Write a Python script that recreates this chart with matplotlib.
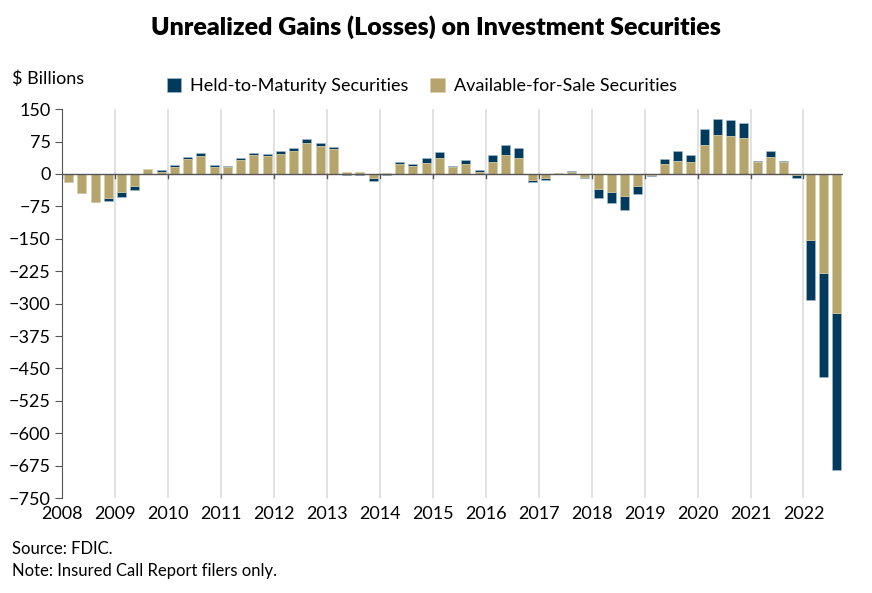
import numpy as np
import matplotlib.pyplot as plt

plt.rcParams['font.family'] = ['Lato', 'DejaVu Sans']

# quarterly, 2008Q1 - 2022Q3, $ billions
afs = [-18, -43, -65, -56,
       -41, -29, 12, 5,
       17, 35, 42, 17,
       17, 33, 44, 42,
       46, 54, 72, 64,
       57, 5, 4, -9,
       3, 24, 19, 26,
       36, 16, 23, 5,
       28, 43, 38, -15,
       -10, 2, 4, -6,
       -34, -41, -51, -28,
       -2, 22, 31, 27,
       68, 90, 87, 83,
       27, 40, 27, -2,
       -152, -229, -321]
htm = [-1, -1, -1, -6,
       -13, -9, 0, 3,
       4, 4, 6, 4,
       2, 4, 4, 3,
       6, 6, 9, 8,
       6, -3, -3, -7,
       -2, 4, 3, 10,
       14, 3, 10, 4,
       16, 25, 21, -4,
       -4, 0, 2, -3,
       -21, -26, -33, -19,
       -3, 13, 22, 17,
       36, 38, 37, 35,
       2, 12, 2, -7,
       -139, -240, -365]
years = list(range(2008, 2023))

afs = np.array(afs, dtype=float)
htm = np.array(htm, dtype=float)
x = 2008 + (np.arange(len(afs)) + 0.5) / 4
htm_base = np.where(np.sign(htm) == np.sign(afs), afs, 0)

navy = '#003a5d'
tan = '#b5a46b'

fig = plt.figure(figsize=(8.72, 5.93), dpi=100)
ax = fig.add_axes([0.071, 0.160, 0.896, 0.656])

for yr in years[1:]:
    ax.axvline(yr, color='#dddddd', lw=1.2, zorder=0)

ax.bar(x, htm, 0.2 * 0.85, bottom=htm_base, color=navy, edgecolor='#a9bfcf',
       linewidth=0.4, label='Held-to-Maturity Securities', zorder=2)
ax.bar(x, afs, 0.2 * 0.85, color=tan, edgecolor='#d9cfa6', linewidth=0.4,
       label='Available-for-Sale Securities', zorder=2)
ax.axhline(0, color='#555555', lw=1, zorder=3)
for yr in years:
    ax.plot([yr, yr], [0, -10], color='#555555', lw=1, zorder=3)

ax.set_xlim(2008, 2022.75)
ax.set_ylim(-750, 150)
ax.set_yticks(range(-750, 151, 75))
ax.set_xticks(years)
ax.tick_params(axis='both', labelsize=13, length=0)
ax.tick_params(axis='x', pad=6)
ax.tick_params(axis='y', length=5, color='#555555', pad=3)
for s in ['top', 'right', 'bottom']:
    ax.spines[s].set_visible(False)
ax.spines['left'].set_color('#555555')

fig.text(0.5, 0.955, 'Unrealized Gains (Losses) on Investment Securities',
         ha='center', va='center', fontsize=18, fontweight='heavy')
fig.text(0.014, 0.868, '$ Billions', fontsize=13, va='center')
ax.legend(loc='lower left', bbox_to_anchor=(0.125, 1.02), ncol=2, frameon=False,
          fontsize=13, handlelength=0.8, handleheight=0.8, columnspacing=1.2,
          handletextpad=0.5, borderaxespad=0)
fig.text(0.014, 0.075, 'Source: FDIC.', fontsize=12, va='center')
fig.text(0.014, 0.037, 'Note: Insured Call Report filers only.', fontsize=12, va='center')

fig.savefig('out.png', dpi=100)
